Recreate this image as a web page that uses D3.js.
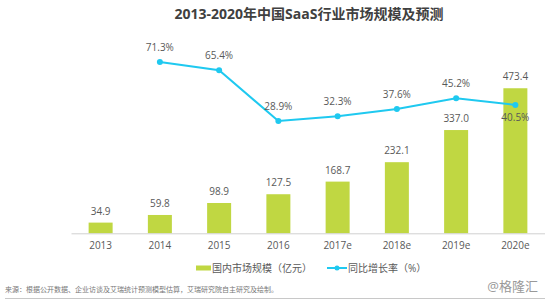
<!DOCTYPE html>
<html>
<head>
<meta charset="utf-8">
<script src="https://cdn.jsdelivr.net/npm/d3@7"></script>
<style>
  html, body { margin: 0; padding: 0; background: #fff; }
  svg { display: block; }
</style>
</head>
<body>
<script>
const [width, height] = [545, 302];

const years = ['2013', '2014', '2015', '2016', '2017e', '2018e', '2019e', '2020e'];
const marketSize = [34.9, 59.8, 98.9, 127.5, 168.7, 232.1, 337.0, 473.4];
const growthRate = [null, 71.3, 65.4, 28.9, 32.3, 37.6, 45.2, 40.5];

const title = '2013-2020年中国SaaS行业市场规模及预测';
const legendLabels = ['国内市场规模（亿元）', '同比增长率（%）'];
const sourceNote = '来源：根据公开数据、企业访谈及艾瑞统计预测模型估算，艾瑞研究院自主研究及绘制。';
const watermark = '@格隆汇';

const font = '"Open Sans", "Noto Sans CJK SC", sans-serif';
const barColor = '#c0d742';
const lineColor = '#1fc9f0';
const textColor = '#595959';

const svg = d3.select('body').append('svg')
    .attr('width', width)
    .attr('height', height)
    .attr('viewBox', [0, 0, width, height])
    .style('font-family', font);

const x = d3.scaleBand()
    .domain(years)
    .range([71, 545])
    .padding(0);

const barWidth = 24;

const y = d3.scaleLinear()
    .domain([0, 500])
    .range([233.3, 80.1]);

const yRate = d3.scaleLinear()
    .domain([0, 80])
    .range([161.3, 49.9]);

const cx = d => x(d) + x.bandwidth() / 2;

// title
svg.append('text')
    .attr('x', 309)
    .attr('y', 19)
    .attr('text-anchor', 'middle')
    .attr('font-size', 14)
    .attr('font-weight', 'bold')
    .attr('fill', '#404040')
    .text(title);

// bars
const bars = years.map((yr, i) => ({ year: yr, value: marketSize[i] }));

svg.append('g')
    .selectAll('rect')
    .data(bars)
    .join('rect')
        .attr('x', d => cx(d.year) - barWidth / 2)
        .attr('y', d => y(d.value))
        .attr('width', barWidth)
        .attr('height', d => y(0) - y(d.value))
        .attr('fill', barColor);

svg.append('g')
    .attr('font-size', 10)
    .attr('fill', textColor)
    .attr('text-anchor', 'middle')
    .selectAll('text')
    .data(bars)
    .join('text')
        .attr('x', d => cx(d.year))
        .attr('y', d => y(d.value) - 8)
        .text(d => d.value.toFixed(1));

// x axis
const xAxis = g => g
    .attr('transform', `translate(0,${y(0)})`)
    .call(d3.axisBottom(x).tickSize(0).tickPadding(9))
    .call(g => g.select('.domain').attr('stroke', '#d0d0d0'))
    .call(g => g.selectAll('text')
        .attr('font-size', 10)
        .attr('font-family', font)
        .attr('fill', textColor));

svg.append('g').call(xAxis);

// growth line
const rates = years.map((yr, i) => ({ year: yr, value: growthRate[i] }))
    .filter(d => d.value != null);

const line = d3.line()
    .x(d => cx(d.year))
    .y(d => yRate(d.value));

svg.append('path')
    .datum(rates)
    .attr('fill', 'none')
    .attr('stroke', lineColor)
    .attr('stroke-width', 2)
    .attr('d', line);

svg.append('g')
    .attr('fill', lineColor)
    .selectAll('circle')
    .data(rates)
    .join('circle')
        .attr('cx', d => cx(d.year))
        .attr('cy', d => yRate(d.value))
        .attr('r', 3);

svg.append('g')
    .attr('font-size', 10)
    .attr('fill', textColor)
    .attr('text-anchor', 'middle')
    .selectAll('text')
    .data(rates)
    .join('text')
        .attr('x', d => cx(d.year))
        .attr('y', d => d.year === '2020e' ? yRate(d.value) + 16.5 : yRate(d.value) - 11)
        .text(d => d.value.toFixed(1) + '%');

// legend
const legend = svg.append('g')
    .attr('font-size', 10)
    .attr('fill', textColor);

legend.append('rect')
    .attr('x', 196)
    .attr('y', 265.5)
    .attr('width', 15)
    .attr('height', 5)
    .attr('fill', barColor);

legend.append('text')
    .attr('x', 212)
    .attr('y', 271.5)
    .text(legendLabels[0]);

legend.append('line')
    .attr('x1', 327)
    .attr('x2', 347)
    .attr('y1', 268)
    .attr('y2', 268)
    .attr('stroke', lineColor)
    .attr('stroke-width', 2);

legend.append('circle')
    .attr('cx', 337)
    .attr('cy', 268)
    .attr('r', 2.5)
    .attr('fill', lineColor);

legend.append('text')
    .attr('x', 348)
    .attr('y', 271.5)
    .text(legendLabels[1]);

// footer
svg.append('text')
    .attr('x', 5)
    .attr('y', 291.5)
    .attr('font-size', 7)
    .attr('fill', '#777')
    .text(sourceNote);

svg.append('text')
    .attr('x', 538)
    .attr('y', 291)
    .attr('text-anchor', 'end')
    .attr('font-size', 13)
    .attr('fill', '#999')
    .text(watermark);

svg.append('line')
    .attr('x1', 5)
    .attr('x2', 545)
    .attr('y1', 298.5)
    .attr('y2', 298.5)
    .attr('stroke', '#c8c8c8')
    .attr('stroke-width', 1);
</script>
</body>
</html>
